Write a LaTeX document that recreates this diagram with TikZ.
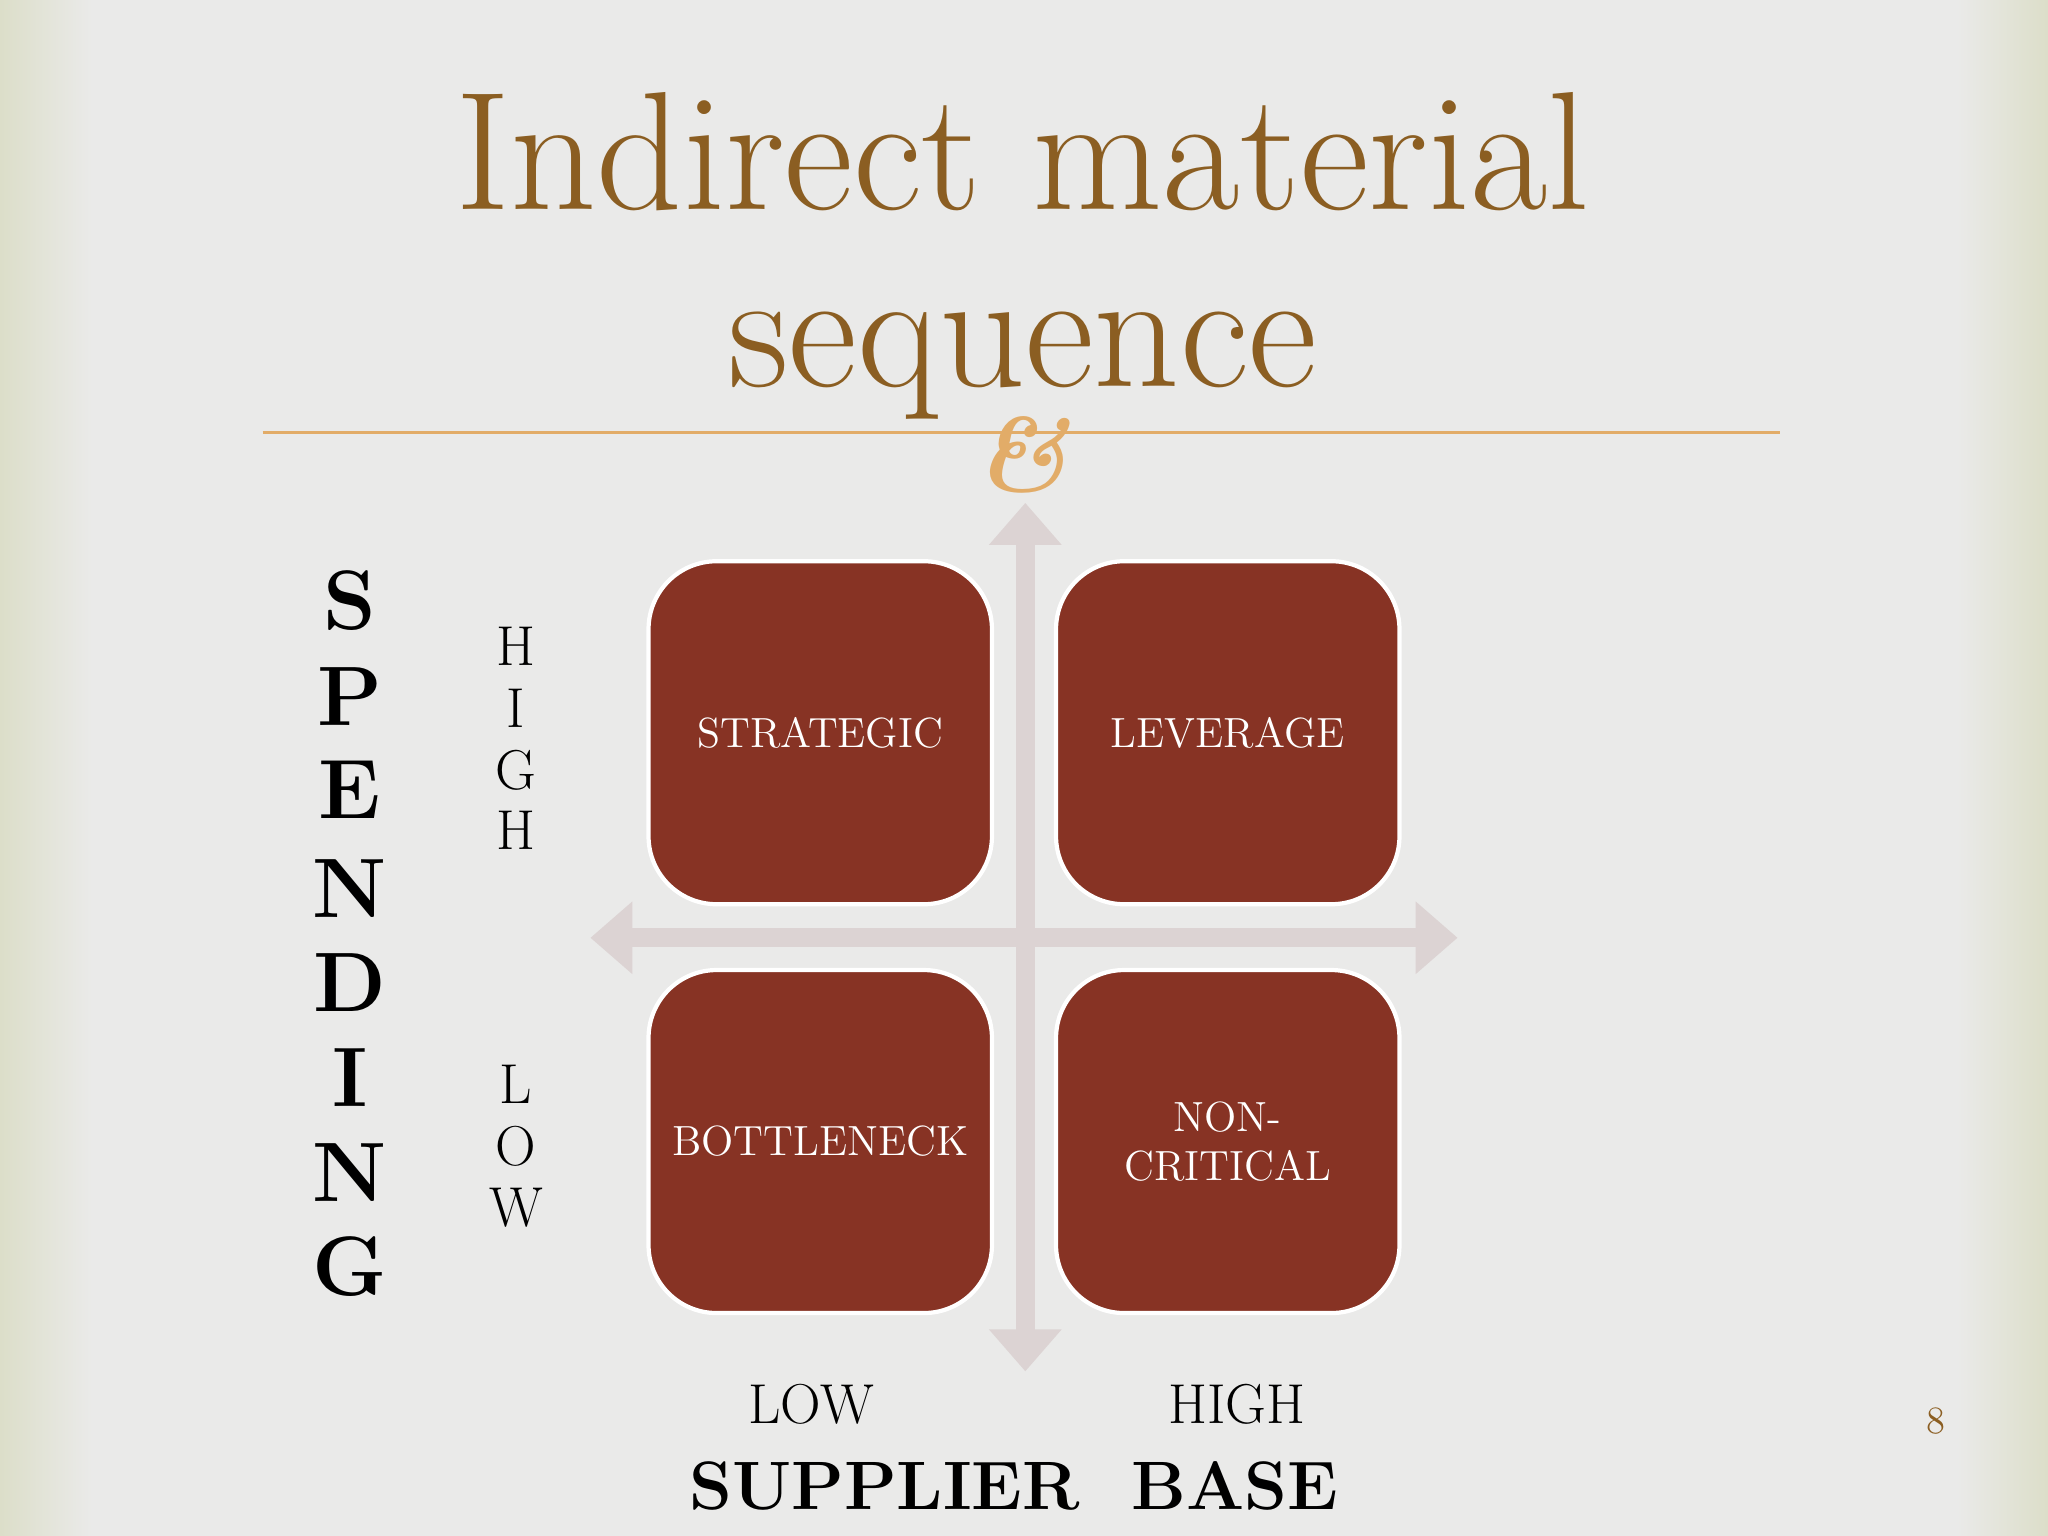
\documentclass[tikz,border=0pt]{standalone}
\usetikzlibrary{arrows.meta}
\definecolor{bg}{HTML}{EAEAE9}
\definecolor{edge}{HTML}{DCDEC9}
\definecolor{title}{HTML}{8B5E22}
\definecolor{rule}{HTML}{E2AC68}
\definecolor{box}{HTML}{873324}
\definecolor{axis}{HTML}{DCD3D3}
\tikzset{
  quad/.style={draw=white,line width=1.2pt,fill=box,rounded corners=0.68cm,minimum width=3.43cm,minimum height=3.43cm,text=white,font=\fontsize{12}{14}\selectfont,align=center,text width=3.2cm},
  ax/.style={draw=axis,line width=0.19cm,{Triangle[width=0.7cm,length=0.42cm]}-{Triangle[width=0.7cm,length=0.42cm]}},
  bigl/.style={font=\bfseries\fontsize{24}{26}\selectfont},
  smalll/.style={font=\fontsize{16}{18}\selectfont},
}
\begin{document}
\begin{tikzpicture}[x=0.01306cm,y=-0.01306cm]
\useasboundingbox (0,0) rectangle (1568,1176);
\fill[bg] (0,0) rectangle (1568,1176);
\fill[left color=edge,right color=bg] (0,0) rectangle (70,1176);
\fill[left color=bg,right color=edge] (1498,0) rectangle (1568,1176);
\node[text=title,font=\fontsize{48}{50}\selectfont] (t1) at (783,116) {Indirect material};
\node[text=title,font=\fontsize{48}{50}\selectfont] (t2) at (783,280) {sequence};
\draw[rule,line width=1pt] (201,331) -- (1363,331);
\node[text=rule,font=\itshape\bfseries\fontsize{30}{32}\selectfont] (orn) at (783,348) {\&};
\coordinate (vt) at (785,385); \coordinate (vb) at (785,1050);
\coordinate (hl) at (452,718); \coordinate (hr) at (1116,718);
\draw[ax] (vt) -- (vb);
\draw[ax] (hl) -- (hr);
\node[quad] (s) at (628,561) {STRATEGIC};
\node[quad] (l) at (940,561) {LEVERAGE};
\node[quad] (b) at (628,874) {BOTTLENECK};
\node[quad] (n) at (940,874) {NON-\\CRITICAL};
\foreach \c/\y in {S/460,P/533,E/605,N/680,D/752,I/825,N/898,G/970}
  \node[bigl] at (268,\y) {\c};
\foreach \c/\y in {H/495,I/542,G/590,H/636,L/830,O/878,W/925}
  \node[smalll] at (395,\y) {\c};
\node[smalll] (xl) at (621,1075) {LOW};
\node[smalll] (xh) at (947,1075) {HIGH};
\node[font=\bfseries\fontsize{19.5}{22}\selectfont] (sb) at (776,1138) {SUPPLIER\ \ BASE};
\node[text=title,font=\fontsize{11}{12}\selectfont] (pg) at (1482,1088) {8};
\end{tikzpicture}
\end{document}
